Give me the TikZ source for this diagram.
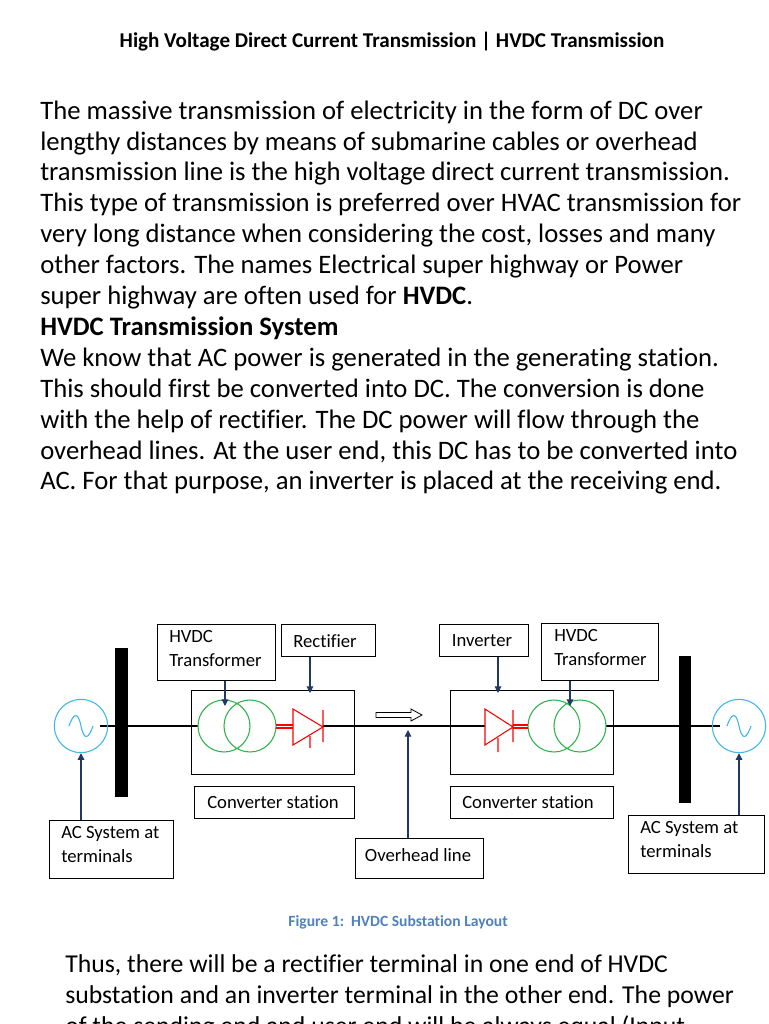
\documentclass[tikz,border=0pt]{standalone}
\usepackage{fontspec}
\setmainfont{Carlito}[RawFeature={-liga}]
\usetikzlibrary{arrows.meta}
\definecolor{nav}{HTML}{1F3864}
\definecolor{cyn}{HTML}{3FB6E8}
\definecolor{grn}{HTML}{2DB34A}
\definecolor{capblue}{HTML}{4F81BD}
\begin{document}
\begin{tikzpicture}[x=0.75pt,y=-0.75pt,
  body/.style={anchor=mid west,inner sep=0,font=\fontsize{20}{24}\selectfont},
  lbl/.style={draw,semithick,anchor=north west,inner sep=0},
  lt/.style={font=\fontsize{14}{17}\selectfont},
  ltl/.style={anchor=north west,align=left,inner sep=0,font=\fontsize{14}{18}\selectfont},
  ptr/.style={nav,thick,-{Triangle[length=5pt,width=5pt]}},
  box/.style={draw,semithick}]
\useasboundingbox (0,0) rectangle (768,1024);
\clip (0,0) rectangle (768,1024);
\node[font=\bfseries\fontsize{15.8}{18}\selectfont] (title) at (392,42) {High Voltage Direct Current Transmission | HVDC Transmission};
\foreach \t [count=\i from 0] in {
 {The massive transmission of electricity in the form of DC over},
 {lengthy distances by means of submarine cables or overhead},
 {transmission line is the high voltage direct current transmission.},
 {This type of transmission is preferred over HVAC transmission for},
 {very long distance when considering the cost, losses and many},
 {other factors. The names Electrical super highway or Power},
 {super highway are often used for \textbf{HVDC}.},
 {\textbf{HVDC Transmission System}},
 {We know that AC power is generated in the generating station.},
 {This should first be converted into DC. The conversion is done},
 {with the help of rectifier. The DC power will flow through the},
 {overhead lines. At the user end, this DC has to be converted into},
 {AC. For that purpose, an inverter is placed at the receiving end.}}
 \node[body] (p\i) at (40,{116+30.9*\i}) {\t};
% main line
\coordinate (la) at (100,726);
\coordinate (ra) at (720,726);
\draw[very thick] (la) -- (198,726);
\draw[very thick] (323,726) -- (485,726);
\draw[very thick] (606,726) -- (ra);
% bus bars
\fill (115,648) rectangle (128,797);
\fill (679,656) rectangle (691,803);
% sources
\node[draw=cyn,thick,circle,minimum size=40,inner sep=0] (s1) at (81,726) {};
\draw[cyn,thick] (69,726) .. controls (74,712) and (78,712) .. (81,726) .. controls (84,740) and (88,740) .. (93,726);
\node[draw=cyn,thick,circle,minimum size=40,inner sep=0] (s2) at (739,726) {};
\draw[cyn,thick] (727,726) .. controls (732,712) and (736,712) .. (739,726) .. controls (742,740) and (746,740) .. (751,726);
% converter boxes
\draw[box] (191,690) rectangle (354,774);
\draw[box] (450,690) rectangle (613,774);
% transformers
\draw[grn,thick] (224,726) circle (26) (250,726) circle (26);
\draw[grn,thick] (554,726) circle (26) (580,726) circle (26);
% thyristors
\draw[red,thick] (276,725) -- (293,725) (276,728) -- (293,728);
\draw[red,thick] (293,709) -- (323,727) -- (293,745) -- cycle (323,710) -- (323,742) (310,736) -- (310,748);
\draw[red,thick] (513,725) -- (528,725) (513,728) -- (528,728);
\draw[red,thick] (485,709) -- (513,727) -- (485,745) -- cycle (513,710) -- (513,742) (498,738) -- (498,752);
% hollow arrow
\draw[semithick] (376,712.5) -- (411,712.5) -- (411,709) -- (422,715) -- (411,721) -- (411,717.5) -- (376,717.5) -- cycle;
% labels
\node[lbl,minimum width=118*0.75pt,minimum height=56*0.75pt] (ht1) at (157,624) {};
\node[ltl] (ht1t) at (169,630) {HVDC\\Transformer};
\node[lbl,minimum width=94*0.75pt,minimum height=32*0.75pt] (rec) at (281,624) {};
\node[lt] (rect) at (325,641) {Rectifier};
\node[lbl,minimum width=89*0.75pt,minimum height=32*0.75pt] (inv) at (439,624) {};
\node[lt] (invt) at (482,641) {Inverter};
\node[lbl,minimum width=117*0.75pt,minimum height=57*0.75pt] (ht2) at (541,623) {};
\node[ltl] (ht2t) at (554,629) {HVDC\\Transformer};
\node[lbl,minimum width=160*0.75pt,minimum height=32*0.75pt] (cs1) at (194,786) {};
\node[lt] (cs1t) at (273,802) {Converter station};
\node[lbl,minimum width=163*0.75pt,minimum height=32*0.75pt] (cs2) at (450,786) {};
\node[lt] (cs2t) at (528,802) {Converter station};
\node[lbl,minimum width=124*0.75pt,minimum height=58*0.75pt] (ac1) at (49,820) {};
\node[ltl] (ac1t) at (61,826) {AC System at\\terminals};
\node[lbl,minimum width=136*0.75pt,minimum height=58*0.75pt] (ac2) at (628,815) {};
\node[ltl] (ac2t) at (640,821) {AC System at\\terminals};
\node[lbl,minimum width=128*0.75pt,minimum height=40*0.75pt] (ov) at (355,838) {};
\node[lt] (ovt) at (418,855) {Overhead line};
% pointers
\coordinate (t1) at (225,706); \coordinate (t2) at (310,693);
\coordinate (t3) at (498,693); \coordinate (t4) at (570,706);
\coordinate (t5) at (408,730);
\draw[ptr] (ht1.south -| t1) -- (t1);
\draw[ptr] (rec.south -| t2) -- (t2);
\draw[ptr] (inv.south -| t3) -- (t3);
\draw[ptr] (ht2.south -| t4) -- (t4);
\draw[ptr] (ov.north -| t5) -- (t5);
\draw[ptr] (ac1.north -| s1) -- (s1.south);
\draw[ptr] (ac2.north -| s2) -- (s2.south);
\node[text=capblue,font=\bfseries\fontsize{11.7}{13}\selectfont] (cap) at (398,922) {Figure 1:\ \ HVDC Substation Layout};
\node[body,font=\fontsize{19.3}{23}\selectfont] (q0) at (65,969) {Thus, there will be a rectifier terminal in one end of HVDC};
\node[body,font=\fontsize{19.3}{23}\selectfont] (q1) at (65,1000) {substation and an inverter terminal in the other end. The power};
\node[body,font=\fontsize{19.3}{23}\selectfont] (q2) at (65,1031) {of the sending end and user end will be always equal (Input};
\end{tikzpicture}
\end{document}
